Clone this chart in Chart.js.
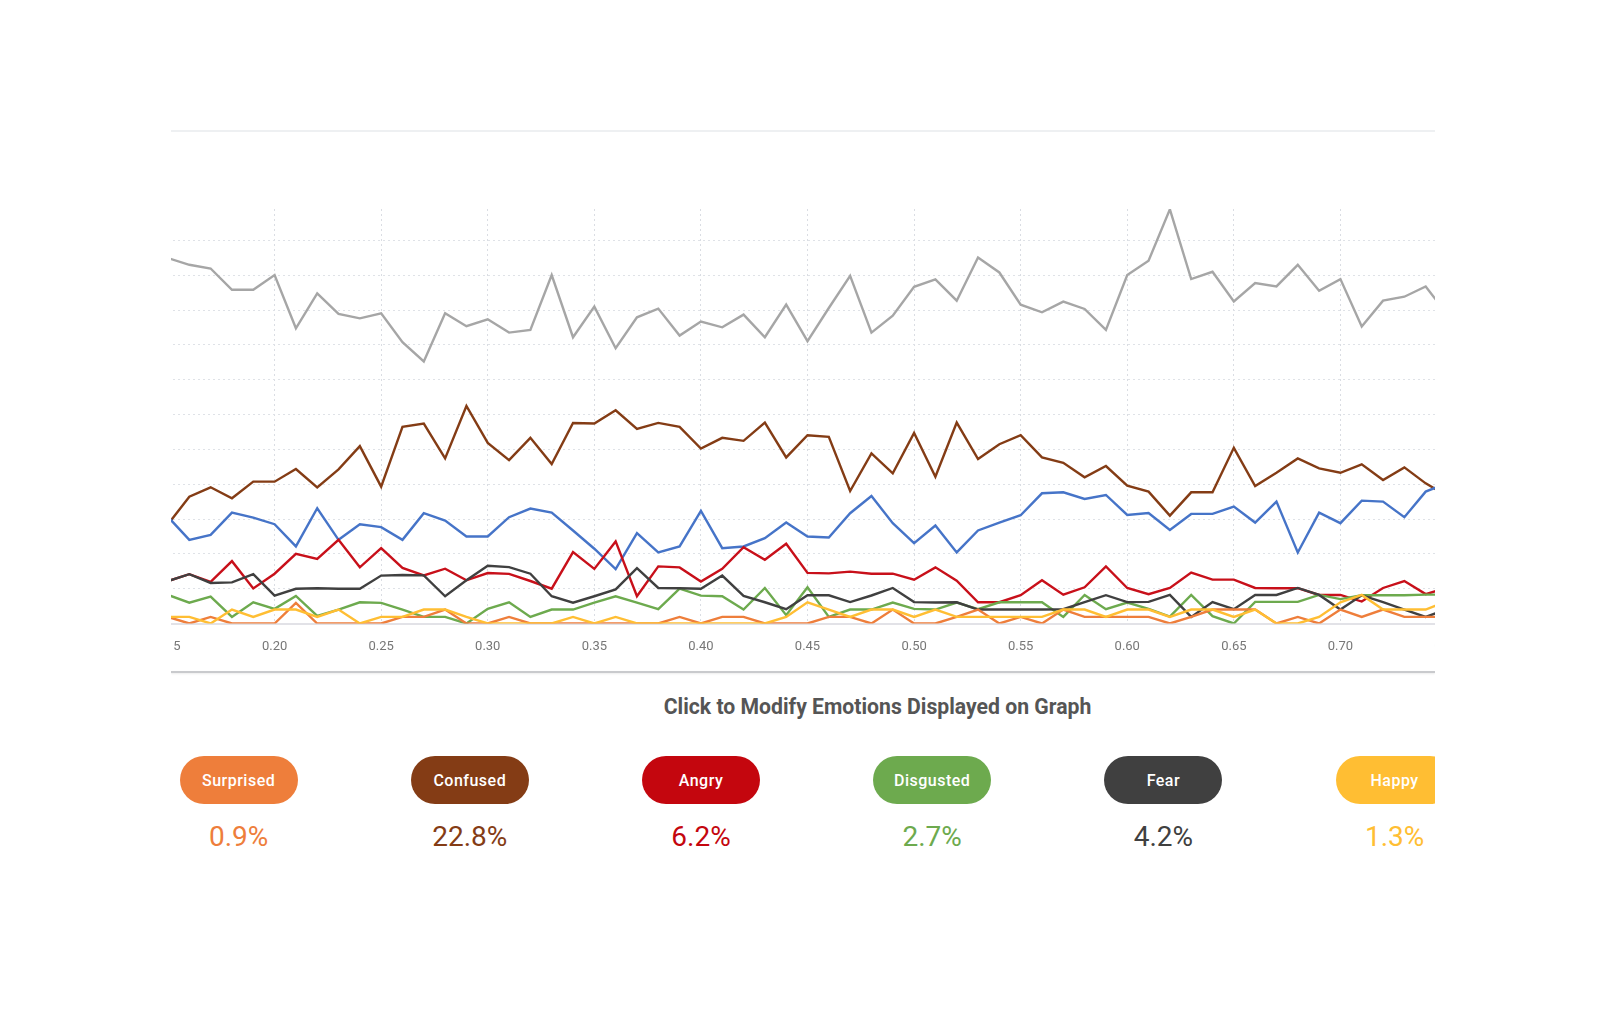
<!DOCTYPE html>
<html>
<head>
<meta charset="utf-8">
<script src="https://cdn.jsdelivr.net/npm/chart.js@4.4.1/dist/chart.umd.min.js"></script>
<style>
html,body{margin:0;padding:0;background:#fff;width:1600px;height:1018px;overflow:hidden;font-family:Roboto,"Noto Sans",sans-serif}
#wrap{position:absolute;left:171px;top:0;width:1264px;height:1018px;overflow:hidden}
#topline{position:absolute;left:0;top:130px;width:1264px;height:2px;background:#eef0f2}
#bottomline{position:absolute;left:0;top:671px;width:1264px;height:2px;background:#c9cacd;box-shadow:0 1px 2px rgba(0,0,0,0.08)}
#chart{position:absolute;left:-33px;top:199px}
#title{position:absolute;top:693px;left:0;width:1413px;text-align:center;font-weight:700;font-size:21.2px;color:#555;line-height:28px;white-space:nowrap}
.pill{position:absolute;top:756px;width:118px;height:48px;border-radius:24px;color:#fff;font-size:16px;font-weight:500;letter-spacing:0.5px;line-height:49px;text-align:center}
.pct{position:absolute;top:819px;width:118px;text-align:center;font-size:28px;line-height:36px}
</style>
</head>
<body>
<div id="wrap">
  <div id="topline"></div>
  <canvas id="chart" width="1339" height="475"></canvas>
  <div id="bottomline"></div>
  <div id="title">Click to Modify Emotions Displayed on Graph</div>
  <div id="legend"></div>
</div>
<script>
// x positions (time fraction)
const xValues = [0.15,0.16,0.17,0.18,0.19,0.20,0.21,0.22,0.23,0.24,0.25,0.26,0.27,0.28,0.29,0.30,0.31,0.32,0.33,0.34,0.35,0.36,0.37,0.38,0.39,0.40,0.41,0.42,0.43,0.44,0.45,0.46,0.47,0.48,0.49,0.50,0.51,0.52,0.53,0.54,0.55,0.56,0.57,0.58,0.59,0.60,0.61,0.62,0.63,0.64,0.65,0.66,0.67,0.68,0.69,0.70,0.71,0.72,0.73,0.74,0.75];

// series values (percent)
const calm = [52.45,51.49,50.96,47.91,47.91,50.01,42.38,47.39,44.43,43.81,44.53,40.38,37.61,44.53,42.67,43.67,41.76,42.14,50.01,41.09,45.48,39.52,43.95,45.2,41.33,43.34,42.52,44.34,41.09,45.77,40.52,45.29,49.91,41.76,44.19,48.34,49.39,46.34,52.54,50.39,45.77,44.67,46.2,45.15,42.14,50.01,52.06,59.45,49.44,50.49,46.24,48.87,48.39,51.49,47.77,49.44,42.62,46.34,46.91,48.39,44.41];
const confused = [14.26,18.21,19.55,17.97,20.36,20.36,22.17,19.55,22.12,25.46,19.64,28.22,28.7,23.69,31.23,25.93,23.46,26.65,22.88,28.79,28.7,30.61,27.94,28.79,28.22,25.12,26.65,26.22,28.84,23.84,27.03,26.79,19.02,24.41,21.55,27.36,21.07,28.84,23.6,25.74,27.03,23.84,23.07,20.98,22.6,19.78,18.93,15.49,18.83,18.83,25.22,19.74,21.64,23.69,22.26,21.64,22.84,20.6,22.41,20.12,18.31];
const sad = [15.3,12.01,12.73,15.92,15.21,14.25,11.06,16.54,12.01,14.25,13.83,12.01,15.83,14.78,12.49,12.49,15.26,16.5,15.92,13.35,10.73,7.82,12.97,10.2,11.06,16.16,10.82,11.06,12.25,14.49,12.49,12.35,15.83,18.31,14.4,11.54,14.06,10.2,13.35,14.49,15.54,18.69,18.83,17.88,18.45,15.59,15.87,13.44,15.73,15.73,16.78,14.49,17.5,10.2,15.92,14.4,17.64,17.5,15.26,18.93,20.14];
const angry = [6.1,7.08,5.96,8.95,5.03,7.15,10.01,9.27,12.01,8.07,10.82,7.98,6.91,7.87,6.2,7.24,7.12,6.1,5.0,10.25,7.84,11.78,3.91,8.2,8.05,6.03,7.85,10.96,9.15,11.44,7.27,7.2,7.44,7.15,7.15,6.29,8.06,6.15,3.05,3.05,4.07,6.2,4.13,5.2,8.2,5.1,4.2,5.1,7.3,6.3,6.3,5.1,5.07,5.07,4.1,4.1,3.15,5.1,6.1,4.22,5.15];
const fear = [6.1,7.08,5.82,5.91,7.1,4.0,4.98,5.07,4.98,4.98,6.88,6.96,6.91,3.91,6.2,8.29,8.1,7.15,3.91,2.98,3.91,4.9,7.96,5.1,5.05,4.98,6.88,3.95,3.05,2.05,4.05,4.05,3.07,4.02,5.1,3.07,3.02,3.05,2.0,2.0,2.0,2.0,2.05,3.07,4.07,3.07,3.1,4.1,0.95,3.07,2.05,4.1,4.1,5.1,4.1,2.0,4.05,3.07,2.0,0.95,2.05];
const disgusted = [4.1,2.98,3.86,0.95,3.05,2.1,3.95,1.1,2.0,3.05,2.96,2.0,0.95,0.95,0,2.1,3.05,0.95,2.0,2.0,3.0,3.91,3.0,2.05,5.0,4.0,3.91,2.0,5.1,1.2,5.2,0.95,2.0,2.0,3.0,2.1,2.0,3.0,2.05,3.05,3.05,3.05,0.95,4.1,2.05,3.0,2.1,1.0,4.1,1.05,0,3.1,3.1,3.1,4.1,3.5,4.05,4.05,4.05,4.15,4.15];
const surprised = [0.95,0,0.95,0,0,0,2.95,0,0,0,0,0.95,0.95,2.0,0,0,0.95,0,0,0,0,0,0,0,0.95,0,0.95,0.95,0,0,0,0.95,0.95,0,2.0,0,0,0.95,2.0,0,0.95,0,2.0,0.95,0.95,0.95,0.95,0,0.95,2.0,2.0,2.0,0,0.95,0,2.0,0.95,2.0,0.95,0.95,0.95];
const happy = [0.95,0.95,0,2.0,0.95,2.0,2.0,0.95,2.0,0,0.95,0.95,2.0,2.0,0.95,0,0,0,0,0.95,0,0.95,0,0,0,0,0,0,0,0.95,3.05,2.0,0.95,2.0,2.0,0.95,2.0,0.95,0.95,0.95,0.95,0.95,2.0,2.0,0.95,2.0,2.0,0.95,2.0,2.0,0.95,2.0,0,0,0.95,3.05,4.1,2.0,2.0,2.0,3.2];

// legend buttons
const legendNames = ['Surprised','Confused','Angry','Disgusted','Fear','Happy'];
const legendShares = ['0.9%','22.8%','6.2%','2.7%','4.2%','1.3%'];
const legendColors = ['#EE7E3B','#843C15','#C4060E','#6DAA4E','#404040','#FFBE33'];

const lineSeries = [
  {label:'Happy', data:happy, color:'#FFBE33', order:1},
  {label:'Surprised', data:surprised, color:'#EE7E3B', order:2},
  {label:'Fear', data:fear, color:'#404040', order:3},
  {label:'Disgusted', data:disgusted, color:'#6DAA4E', order:4},
  {label:'Angry', data:angry, color:'#C8101A', order:5},
  {label:'Sad', data:sad, color:'#4674C8', order:6},
  {label:'Confused', data:confused, color:'#843C15', order:7},
  {label:'Calm', data:calm, color:'#A6A6A6', order:8}
];

const legend = document.getElementById('legend');
legendNames.forEach((n, i) => {
  const left = 8.6 + 231.2 * i;
  const p = document.createElement('div');
  p.className = 'pill';
  p.style.left = left + 'px';
  p.style.background = legendColors[i];
  p.textContent = n;
  legend.appendChild(p);
  const q = document.createElement('div');
  q.className = 'pct';
  q.style.left = left + 'px';
  q.style.color = legendColors[i];
  q.textContent = legendShares[i];
  legend.appendChild(q);
});

new Chart(document.getElementById('chart'), {
  type: 'line',
  data: {
    datasets: lineSeries.map(s => ({
      label: s.label,
      data: xValues.map((x, i) => ({x: x, y: s.data[i]})),
      borderColor: s.color,
      backgroundColor: s.color,
      borderWidth: 2.4,
      pointRadius: 0,
      tension: 0,
      fill: false,
      order: s.order
    }))
  },
  options: {
    responsive: false,
    animation: false,
    events: [],
    layout: {padding: {left: 30, right: 30, top: 10, bottom: 0}},
    plugins: {legend: {display: false}, tooltip: {enabled: false}},
    scales: {
      x: {
        type: 'linear',
        min: 0.15,
        max: 0.75,
        afterFit: (s) => { s.height = 50.5; },
        grid: {color: '#dadde3', lineWidth: 1, drawTicks: false},
        border: {display: true, color: '#e2e2e7', width: 2, dash: [2, 3]},
        ticks: {stepSize: 0.05, padding: 15, color: '#777', font: {family: 'Roboto', size: 13}, maxRotation: 0, autoSkip: false,
          callback: (v) => Number(v).toFixed(2)}
      },
      y: {
        min: 0,
        max: 59.5,
        afterFit: (s) => { s.width = 0; },
        grid: {color: '#dfe2e7', lineWidth: 1, drawTicks: false},
        border: {display: false, dash: [2, 3]},
        ticks: {display: false, stepSize: 5, includeBounds: false}
      }
    }
  }
});
</script>
</body>
</html>
